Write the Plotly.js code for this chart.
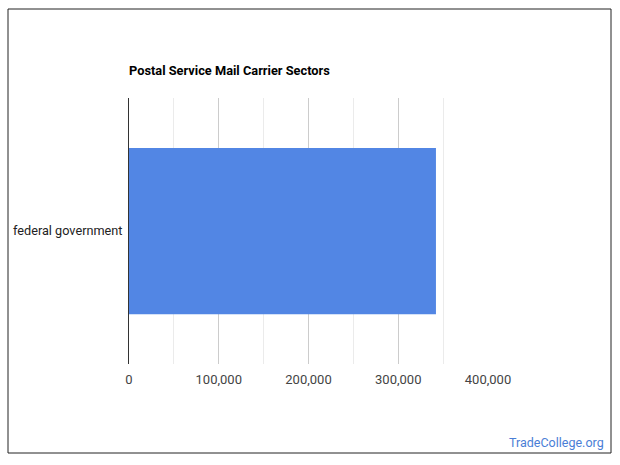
<!DOCTYPE html>
<html>
<head>
<meta charset="utf-8">
<script src="https://cdn.plot.ly/plotly-3.0.1.min.js"></script>
<style>
  body { margin: 0; background: #fff; }
  #chart { width: 620px; height: 465px; }
</style>
</head>
<body>
<div id="chart"></div>
<script>
const sectors = ["federal government"];
const workers = [342000];
const tickVals = [0, 100000, 200000, 300000, 400000];
const tickText = ["0", "100,000", "200,000", "300,000", "400,000"];

const data = [
  {
    type: "bar",
    orientation: "h",
    y: sectors,
    x: workers,
    marker: { color: "#5286e4" },
    hoverinfo: "x+y",
  },
];

const layout = {
  width: 620,
  height: 465,
  margin: { l: 129, r: 132, t: 98, b: 101 },
  paper_bgcolor: "#fff",
  plot_bgcolor: "#fff",
  font: { family: "Roboto, Arial, sans-serif", size: 13, color: "#222" },
  showlegend: false,
  bargap: 0.375,
  title: {
    text: "<b>Postal Service Mail Carrier Sectors</b>",
    font: { size: 12.8, color: "#000" },
    x: 129 / 620,
    xanchor: "left",
    y: 1 - 71 / 465,
    yanchor: "middle",
  },
  xaxis: {
    range: [0, 400000],
    tickvals: tickVals,
    ticktext: tickText,
    showgrid: true,
    gridcolor: "#ccc",
    zeroline: false,
    showline: false,
    ticks: "",
    ticklabelstandoff: 6,
    tickfont: { size: 13, color: "#444" },
    minor: { dtick: 50000, tick0: 0, showgrid: true, gridcolor: "#ebebeb", ticks: "" },
    fixedrange: true,
  },
  yaxis: {
    showline: true,
    linecolor: "#333",
    linewidth: 1,
    showgrid: false,
    ticks: "",
    ticklabelstandoff: 3,
    tickfont: { size: 12.7, color: "#222" },
    fixedrange: true,
  },
  shapes: [
    {
      type: "rect",
      xref: "paper",
      yref: "paper",
      x0: -121 / 359,
      x1: (611 - 129) / 359,
      y0: -(453 - 364) / 266,
      y1: 1 + (98 - 9) / 266,
      line: { color: "#222", width: 1 },
      fillcolor: "rgba(0,0,0,0)",
    },
  ],
  annotations: [
    {
      text: "TradeCollege.org",
      xref: "paper",
      yref: "paper",
      x: (606 - 129) / 359,
      xanchor: "right",
      y: -(442 - 364) / 266,
      yanchor: "middle",
      showarrow: false,
      font: { size: 12.5, color: "#4a7ed6" },
    },
  ],
};

Plotly.newPlot("chart", data, layout, { displayModeBar: false, staticPlot: true });
</script>
</body>
</html>
